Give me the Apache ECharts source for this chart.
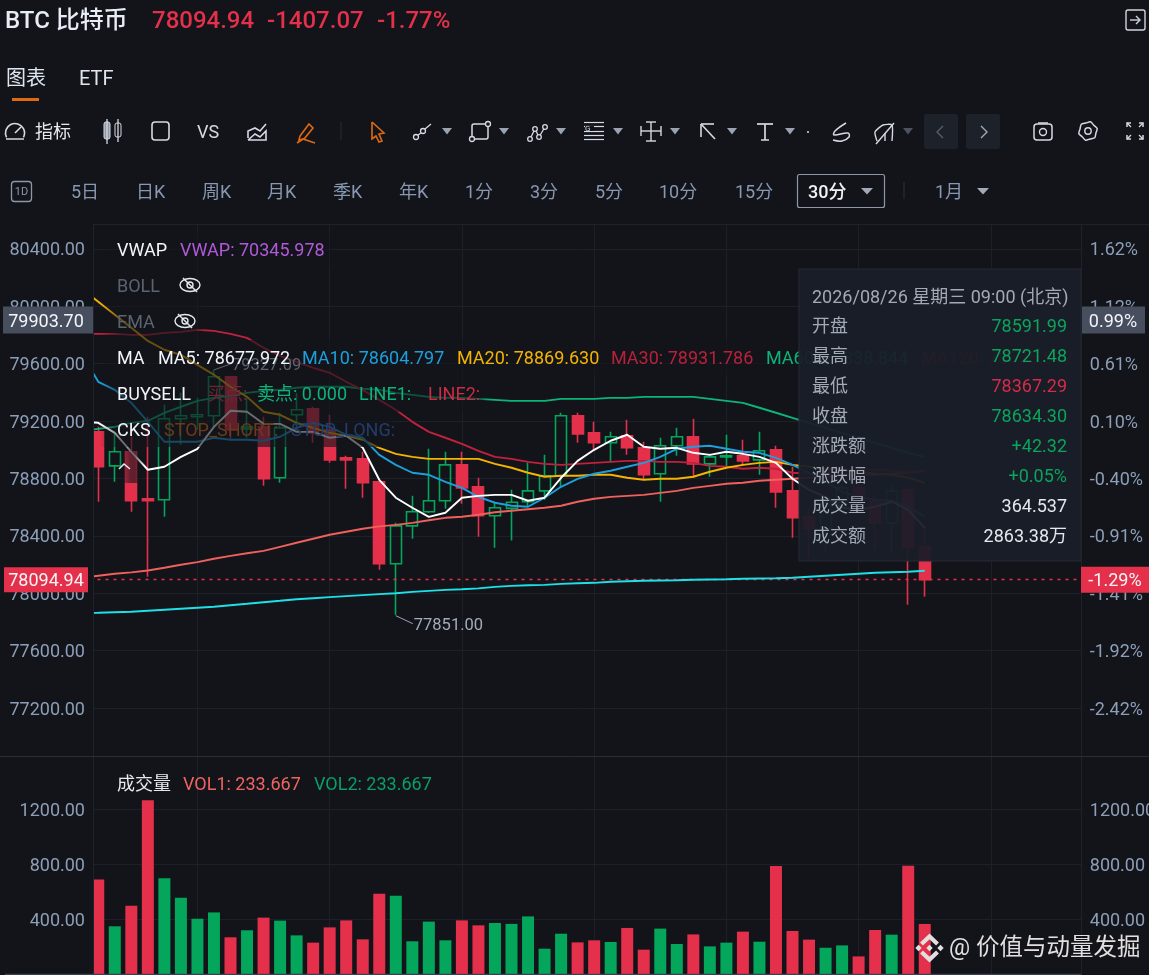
<!DOCTYPE html>
<html><head><meta charset="utf-8">
<script src="https://cdn.jsdelivr.net/npm/echarts@6/dist/echarts.min.js"></script>
<style>html,body{margin:0;padding:0;background:#12141a;overflow:hidden}#c{width:1149px;height:975px}</style>
</head><body><div id="c"></div>
<script>
// candles: [open, close, low, high]
const candles = [
[79125,78882,78638,79160],[78888,78986,78777,79118],[78986,78645,78568,79091],[78659,78645,78115,79230],
[78652,79216,78533,79314],[79216,79237,79035,79397],[79230,79244,79139,79362],[79237,79509,79160,79557],
[79509,79139,79077,79516],[79146,79160,79084,79369],[79160,78798,78749,79230],[78805,79153,78770,79258],
[79244,79279,79139,79397],[79286,79118,79049,79300],[79139,78930,78909,79244],[78944,78930,78728,78958],
[78937,78770,78666,78986],[78777,78206,78164,78785],[78206,78470,77851,78491],[78470,78568,78380,78679],
[78568,78645,78560,79007],[78645,78895,78589,78986],[78895,78735,78624,78986],[78742,78540,78394,78805],
[78540,78596,78317,78638],[78591.99,78634.30,78367.29,78721.48],[78638,78714,78603,78909],[78714,78819,78652,78965],
[78819,79237,78742,79258],[79237,79111,79049,79258],[79118,79049,78993,79195],[79049,79091,78909,79125],
[79098,79014,78965,79209],[79014,78826,78791,79056],[78833,79028,78638,79084],[79028,79091,78958,79153],
[79091,78902,78805,79216],[78902,78951,78812,78972],[78951,78958,78875,79105],[78958,78923,78888,79070],
[78930,78993,78826,79125],[79000,78707,78596,79028],[78714,78526,78387,78882],[78533,78450,78247,78596],
[78450,78631,78289,78652],[78631,78735,78582,78756],[78735,78652,78547,78791],[78638,78491,78303,78686],
[78491,78714,78289,78756],[78721,78317,77920,78735],[78324,78094.94,77976,78456]];
const volumes = [688,347,497,1263,696,555,402,448,267,318,410,388,281,228,339,390,252,584,570,238,381,245,390,354,371,364.537,419,184,293,230,245,233,335,177,330,218,288,201,228,308,235,785,313,250,191,208,128,320,286,788,364];
// line series: first value is the bar just left of the visible window
const ma5 = [79195,79188,79118,78986,78861,78882,78951,79007,79160,79272,79265,79181,79181,79125,79125,79084,79098,79014,78791,78666,78596,78533,78561,78666,78679,78686,78686,78645,78666,78805,78923,79000,79063,79105,79021,79007,79014,78979,78965,78986,78972,78951,78909,78798,78721,78672,78596,78582,78603,78638,78582,78456];
const ma10 = [79669,79474,79418,79327,79195,79056,79056,79056,79084,79070,79070,79063,79091,79153,79188,79160,79105,79084,78965,78895,78840,78826,78777,78735,78672,78631,78610,78603,78666,78742,78798,78833,78854,78882,78909,78951,79007,79021,79028,79007,78986,78979,78944,78895,78840,78777,78707,78672,78652,78645,78603,78533];
const ma20 = [80122,80031,79941,79850,79759,79697,79662,79592,79523,79439,79369,79265,79244,79188,79153,79118,79098,79070,79014,78972,78951,78937,78937,78937,78937,78902,78875,78840,78812,78819,78819,78826,78826,78805,78791,78798,78798,78812,78847,78875,78895,78909,78916,78895,78882,78868,78861,78847,78833,78826,78805,78770];
const ma30 = [79808,79808,79808,79801,79801,79815,79822,79836,79829,79808,79780,79711,79655,79613,79571,79537,79474,79418,79348,79279,79195,79125,79084,79042,78993,78951,78937,78916,78902,78895,78902,78909,78916,78923,78923,78916,78916,78909,78888,78882,78868,78875,78868,78840,78833,78840,78847,78854,78861,78854,78847,78847];
const ma60 = [79132,79146,79160,79188,79202,79258,79300,79341,79362,79376,79397,79411,79418,79432,79439,79439,79439,79425,79418,79397,79383,79369,79362,79362,79355,79348,79341,79341,79341,79355,79355,79355,79362,79362,79369,79369,79369,79369,79355,79341,79327,79293,79258,79223,79188,79153,79118,79084,79049,79014,78979,78951];
const ma120 = [78108,78122,78136,78146,78159,78178,78199,78217,78241,78261,78279,78296,78324,78352,78380,78408,78429,78450,78466,78477,78491,78509,78526,78533,78547,78565,78575,78586,78596,78610,78638,78659,78672,78679,78686,78700,78714,78735,78749,78763,78770,78784,78791,78798,78805,78812,78819,78826,78826,78833,78840,78854];
const ma250 = [77862,77864,77868,77871,77878,77885,77892,77899,77906,77917,77927,77938,77948,77959,77966,77973,77980,77987,77994,78000,78010,78017,78024,78028,78034,78045,78052,78056,78059,78066,78070,78073,78080,78084,78087,78089,78091,78094,78096,78098,78101,78103,78105,78108,78115,78122,78129,78136,78143,78147,78150,78157];
const pctLabels = ['1.62%','1.12%','0.61%','0.10%','-0.40%','-0.91%','-1.41%','-1.92%','-2.42%'];
const lastPrice = 78094.94, crossPrice = 79903.70;
const lastPct = '-1.29%', crossPct = '0.99%';
const highLabel = '79327.09', lowLabel = '77851.00';
const tipRows = [['开盘','78591.99','g'],['最高','78721.48','g'],['最低','78367.29','r'],['收盘','78634.30','g'],['涨跌额','+42.32','g'],['涨跌幅','+0.05%','g'],['成交量','364.537','w'],['成交额','2863.38万','w']];
const periods = [['5日',71],['日K',136],['周K',202],['月K',267],['季K',333],['年K',399],['1分',465],['3分',530],['5分',595],['10分',659],['15分',735]];

const BG='#12141a',RED='#e4304b',GRN='#03a65a',AX='#8d9fb8',GRID='#1c2028',FONT='Roboto,"Noto Sans CJK SC",sans-serif';
const SLOTS=61, cats=Array.from({length:SLOTS},(_,i)=>String(i));
const gridIdx=[7,15,23,31,39,47,55];
const padL=a=>{const r=a.slice();while(r.length<SLOTS)r.push('-');return r;};

const chart=echarts.init(document.getElementById('c'),null,{renderer:'canvas'});

/* graphic helpers */
const ln=(x1,y1,x2,y2,c,w=1,z=420,extra={})=>({type:'line',silent:true,z,shape:{x1,y1,x2,y2},style:Object.assign({stroke:c,lineWidth:w},extra)});
const box=(x,y,w,h,o={})=>({type:'rect',silent:true,z:o.z??420,shape:{x,y,width:w,height:h,r:o.r||0},style:{fill:o.fill||'none',stroke:o.stroke||'none',lineWidth:o.lw||1}});
const txt=(x,y,s,c,o={})=>({type:'text',silent:true,z:o.z??430,style:{x,y:y+2,text:s,fill:c,font:(o.w?o.w+' ':'')+(o.size||18)+'px '+FONT,textAlign:o.align||'left',textVerticalAlign:'middle',opacity:o.op??1}});
const poly=(pts,c,w=1.6,z=420)=>({type:'polyline',silent:true,z,shape:{points:pts},style:{stroke:c,lineWidth:w,fill:'none'}});
const pg=(pts,c,z=420)=>({type:'polygon',silent:true,z,shape:{points:pts},style:{fill:c}});
const cir=(x,y,r,c,w=1.6,z=420,fill='none')=>({type:'circle',silent:true,z,shape:{cx:x,cy:y,r},style:{stroke:c,lineWidth:w,fill}});
const tri=(x,y,c='#9aa3b2',s=5)=>pg([[x-s,y-3],[x+s,y-3],[x,y+3.5]],c);

function rowShade(x,y,w,h){
  const a=0.62;
  return {type:'rect',silent:true,z:150,shape:{x,y,width:w,height:h},style:{fill:new echarts.graphic.LinearGradient(0,0,1,0,[
    {offset:0,color:'rgba(18,20,26,0)'},{offset:Math.min(0.5,22/w),color:'rgba(18,20,26,'+a+')'},
    {offset:Math.max(0.5,1-10/w),color:'rgba(18,20,26,'+a+')'},{offset:1,color:'rgba(18,20,26,0)'}])}};
}
function eye(x,y){return [
  {type:'ellipse',silent:true,z:160,shape:{cx:x,cy:y,rx:10,ry:6.5},style:{stroke:'#e4e8ef',lineWidth:1.4,fill:'none'}},
  cir(x,y,3,'#e4e8ef',1.4,160),ln(x-7,y-7,x+7,y+7,'#e4e8ef',1.4,160)];}

function staticGraphics(){
  const g=[];
  // legend row shades
  g.push(rowShade(100,233,235,35),rowShade(100,268,110,36),rowShade(100,304,105,36),rowShade(100,340,985,36),rowShade(100,376,388,36),rowShade(100,412,298,35),rowShade(117,447,28,36));
  const L=(x,y,s,c,w)=>txt(x,y,s,c,{z:160,w});
  g.push(L(117,249,'VWAP','#f2f5fa'),L(180,249,'VWAP: 70345.978','#b05ad8'));
  g.push(L(117,285,'BOLL','#5c6370'),...eye(190,285));
  g.push(L(117,321,'EMA','#5c6370'),...eye(185,321));
  g.push(L(117,357,'MA','#f2f5fa'),L(158,357,'MA5: 78677.972','#f2f5fa'),L(302,357,'MA10: 78604.797','#1d9fdc'),L(457,357,'MA20: 78869.630','#f5b400'),L(611,357,'MA30: 78931.786','#b9213a'),L(766,357,'MA60: 78838.844','#0cb47a'),L(921,357,'MA120: 78525.517','#b9213a'));
  g.push(L(117,393,'BUYSELL','#f2f5fa'),L(207,393,'买点:','#6e2534'),L(257,393,'卖点: 0.000','#0cb47a'),L(359,393,'LINE1:','#0cb47a'),L(428,393,'LINE2:','#c92c44'));
  g.push(L(117,429,'CKS','#f2f5fa'),L(164,429,'STOP_SHORT:','#6b3a1c'),L(291,429,'STOP_LONG:','#243c6b'));
  g.push(poly([[119,469],[124,464],[130,469]],'#e8ecf2',1.5,160));
  g.push(txt(117,783,'成交量','#e6ebf2',{z:160}),txt(183,783,'VOL1: 233.667','#ef6461',{z:160}),txt(314,783,'VOL2: 233.667','#0a9e68',{z:160}));
  // tooltip
  g.push(box(799,269,282,292,{fill:'rgba(26,30,40,0.95)',stroke:'#262b36',z:200}));
  g.push(txt(812,296,'2026/08/26 星期三 09:00 (北京)','#a3aab6',{z:210}));
  const tc={g:'#0aa45c',r:'#d42c48',w:'#e4e8ef'};
  tipRows.forEach((r,i)=>{const y=325+i*30;g.push(txt(812,y,r[0],'#a3aab6',{z:210}),txt(1067,y,r[1],tc[r[2]],{z:210,align:'right'}));});
  // panel frame
  g.push(box(0,0,1149,224.5,{fill:BG,z:250}),box(0,224,93,751,{fill:BG,z:250}));
  g.push(ln(93,224.5,1149,224.5,'#1e222b',1,260),ln(93.5,224,93.5,975,'#1e222b',1,260),ln(1081.5,224,1081.5,975,'#1e222b',1,260),ln(0,756.5,1149,756.5,'#282d38',1,260),ln(5,974.5,1081,974.5,'#3a4150',1.4,260));
  // header
  g.push(txt(5,20,'BTC 比特币','#e8edf5',{size:24,w:500}),txt(152,20,'78094.94',RED,{size:24,w:500}),txt(267,20,'-1407.07',RED,{size:24,w:500}),txt(377,20,'-1.77%',RED,{size:24,w:500}));
  g.push(box(1126,10,19,20,{stroke:'#cfd5df',r:2,lw:1.4}),ln(1130,20,1140,20,'#cfd5df',1.4),poly([[1136,16],[1140,20],[1136,24]],'#cfd5df',1.4));
  g.push(txt(6,78,'图表','#dfe6f0',{size:20}),txt(79,78,'ETF','#dfe6f0',{size:20}),box(12,98,27,3,{fill:'#df6a12'}));
  // toolbar row
  const W='#d5dae3',Y=131;
  g.push({type:'arc',silent:true,z:420,shape:{cx:15,cy:133,r:9.5,startAngle:Math.PI*0.85,endAngle:Math.PI*2.15},style:{stroke:W,lineWidth:1.6,fill:'none'}},ln(6,139,24,139,W,1.5),ln(15,133,21,127,W,1.6));
  g.push(txt(35,Y,'指标','#e4e8ef'));
  g.push(box(104,122,6,17,{fill:'#8e96a3',stroke:W,r:2}),ln(107,119,107,144,W,1.3),box(115,123,6,14,{stroke:W,r:2}),ln(118,119,118,142,W,1.3));
  g.push(box(152,122,17,18,{stroke:W,r:3,lw:1.6}));
  g.push(txt(197,Y,'VS','#d5dae3'));
  g.push(poly([[248,138],[248,131],[255,128],[260,131],[266,124]],W),poly([[248,140],[255,134],[260,137],[266,131],[266,140],[248,140]],W));
  const O='#df6a12';
  g.push(poly([[297,143],[303,139],[309,141],[315,143]],O),poly([[300,136],[309,124],[313,128],[304,139],[299,140],[300,136]],O));
  g.push(ln(341,122,341,140,'#262b36',1));
  g.push(poly([[372,122],[384,133],[379,134],[382,141],[379,142],[376,136],[372,139],[372,122]],O));
  g.push(cir(416,137,2.5,W,1.3),cir(423,131,2.5,W,1.3),ln(418,135,421,133,W,1.3),ln(425,129,431,124,W,1.3),tri(447,131));
  g.push(box(472,124,16,15,{stroke:W,r:2,lw:1.5}),cir(472,139,2.5,W,1.3,421,BG),cir(488,124,2.5,W,1.3,421,BG),tri(504,131));
  g.push(poly([[530,139],[535,129],[539,137],[545,127]],W,1.3),cir(530,139,2.3,W,1.3,421,BG),cir(535,129,2.3,W,1.3,421,BG),cir(539,137,2.3,W,1.3,421,BG),cir(545,127,2.3,W,1.3,421,BG),tri(561,131));
  [122,126,131,135,139].forEach(y=>g.push(ln(584,y+.5,604,y+.5,W,1.2)));
  g.push(box(585,126,9,5,{fill:BG}),txt(585,127,'G',W,{size:8}),tri(618,131));
  g.push(ln(641,131,661,131,W,1.4),ln(641,126,641,136,W,1.4),ln(661,126,661,136,W,1.4),ln(651,122,651,141,W,1.4),ln(646,122,656,122,W,1.4),ln(646,141,656,141,W,1.4),tri(675,131));
  g.push(ln(701,124,714,124,W,1.6),ln(701,124,701,137,W,1.6),ln(701,124,715,139,W,1.6),tri(732,131));
  g.push(ln(757,124,773,124,W,1.7),ln(765,124,765,140,W,1.7),ln(761,140,769,140,W,1.5),tri(790,131));
  g.push(cir(808,132,.7,W,1));
  g.push({type:'polyline',silent:true,z:420,shape:{points:[[846,123],[835,131],[834,135],[848,133],[849,137],[842,141],[833,140]],smooth:0.4},style:{stroke:W,lineWidth:1.5,fill:'none'}});
  g.push({type:'polyline',silent:true,z:420,shape:{points:[[877,141],[875,132],[883,125],[892,125],[892,141]],smooth:0.2},style:{stroke:W,lineWidth:1.4,fill:'none'}},ln(876,144,894,123,W,1.4),ln(885,133,885,141,W,1.4),tri(908,131,'#4c5260'));
  g.push(box(924,114,34,35,{fill:'#1d2129',r:2}),box(966,114,34,35,{fill:'#1d2129',r:2}));
  g.push(poly([[943,126],[937,132],[943,138]],'#565d6b',1.4),poly([[981,126],[987,132],[981,138]],'#a3aab6',1.4));
  g.push(box(1034,124,18,16,{stroke:W,r:3,lw:1.5}),ln(1038,123,1048,123,W,1.5),cir(1043,132,3.5,W,1.4));
  const gear=[];for(let k=0;k<12;k++){const a=k*Math.PI/6-Math.PI/12,r=(k%2===0)?9.5:8.2;gear.push([1088+r*Math.cos(a),131+r*Math.sin(a)]);}
  g.push({type:'polygon',silent:true,z:420,shape:{points:gear,smooth:0.25},style:{stroke:W,lineWidth:1.5,fill:'none'}},cir(1088,131,3.2,W,1.4));
  [[1127,123,1,1],[1143,123,-1,1],[1127,139,1,-1],[1143,139,-1,-1]].forEach(c=>g.push(poly([[c[0],c[1]+4*c[3]],[c[0],c[1]],[c[0]+4*c[2],c[1]]],W,1.5),ln(c[0],c[1],c[0]+4*c[2],c[1]+4*c[3],W,1.3)));
  // period row
  g.push(box(11.5,181.5,20,20,{stroke:'#8d97a6',r:3,lw:1.3}),txt(21.5,190,'1D','#8d97a6',{size:11,align:'center'}));
  periods.forEach(p=>g.push(txt(p[1],191,p[0],'#8898b2')));
  g.push(box(797.5,174.5,87,33,{stroke:'#8d97a6',r:2,lw:1.2}),txt(808,191,'30分','#f0f3f8',{w:500}),tri(867,191,'#a3aab6',6));
  g.push(ln(904,182,904,199,'#2c313c',1),txt(935,191,'1月','#8898b2'),tri(983,191,'#a3aab6',6));
  // watermark
  const D='#e3dfe0';
  const dm=(x,y,s)=>pg([[x,y-s],[x+s,y],[x,y+s],[x-s,y]],D,500);
  g.push(poly([[921.5,944],[929.5,936.5],[937.5,944]],D,4.2,500),poly([[921.5,952],[929.5,959.5],[937.5,952]],D,4.2,500),dm(918.5,948,3.2),dm(940.5,948,3.2),dm(929.5,948,3.2));
  g.push(txt(949,947,'@ 价值与动量发掘',D,{size:23.5,z:500}));
  return g;
}

const lineS=(name,data,color)=>({name,type:'line',data:padL(data),xAxisIndex:0,yAxisIndex:0,symbol:'none',smooth:false,z:5,silent:true,animation:false,lineStyle:{color,width:1.9}});
const lab=f=>({margin:8,color:AX,fontFamily:FONT,fontSize:18,formatter:v=>{const s=f(v);return s?'{a|'+s+'}':'';},
  rich:{a:{padding:[4,0,0,0],color:AX,fontFamily:FONT,fontSize:18}}});

const option={
  backgroundColor:BG,animation:false,
  grid:[{left:73.47,top:191.5,width:1008.3,height:574,containLabel:false,outerBoundsMode:'none'},{left:73.47,top:754,width:1008.3,height:220,containLabel:false,outerBoundsMode:'none'}],
  xAxis:[0,1].map(i=>({type:'category',gridIndex:i,data:cats,boundaryGap:true,axisLine:{show:false},axisTick:{show:false},axisLabel:{show:false},
    splitLine:{show:true,alignWithLabel:true,interval:(idx)=>gridIdx.includes(idx),lineStyle:{color:GRID,width:1}}})),
  yAxis:[
    {type:'value',gridIndex:0,position:'left',offset:-19.5,z:300,min:76800,max:80800,interval:400,scale:true,axisLine:{show:false},axisTick:{show:false},splitLine:{show:false},
      axisLabel:lab(v=>(v>=80800||v<=76800)?'':v.toFixed(2))},
    {type:'value',gridIndex:0,position:'right',min:76800,max:80800,interval:400,scale:true,axisLine:{show:false},axisTick:{show:false},
      splitLine:{show:true,showMinLine:false,showMaxLine:false,lineStyle:{color:GRID}},
      axisLabel:lab(v=>pctLabels[Math.round((80400-v)/400)]||'')},
    {type:'value',gridIndex:1,position:'left',offset:-19.5,z:300,min:0,max:1600,interval:400,axisLine:{show:false},axisTick:{show:false},splitLine:{show:false},
      axisLabel:lab(v=>(v===0||v===1600)?'':v.toFixed(2))},
    {type:'value',gridIndex:1,position:'right',min:0,max:1600,interval:400,axisLine:{show:false},axisTick:{show:false},
      splitLine:{show:true,showMinLine:false,showMaxLine:false,lineStyle:{color:GRID}},
      axisLabel:lab(v=>(v===0||v===1600)?'':v.toFixed(2))}
  ],
  series:[
    {name:'K',type:'candlestick',xAxisIndex:0,yAxisIndex:0,barWidth:11.5,z:3,silent:true,
      data:padL([['-','-','-','-']].concat(candles)),
      itemStyle:{color:'rgba(0,0,0,0)',color0:RED,borderColor:GRN,borderColor0:RED,borderWidth:1.6},
      markLine:{silent:true,symbol:'none',animation:false,label:{show:false},lineStyle:{color:RED,type:[3,5],width:1.4},data:[{yAxis:lastPrice}]}},
    lineS('MA120',ma120,'#f0605c'),lineS('MA250',ma250,'#1ee0e6'),lineS('MA60',ma60,'#0cb47a'),lineS('MA30',ma30,'#c0213c'),
    lineS('MA20',ma20,'#f5b400'),lineS('MA10',ma10,'#1d9fdc'),lineS('MA5',ma5,'#ffffff'),
    {name:'VOL',type:'bar',xAxisIndex:1,yAxisIndex:3,barWidth:12,silent:true,z:3,
      data:padL(['-'].concat(volumes.map((v,i)=>({value:v,itemStyle:{color:candles[i][1]>=candles[i][0]?GRN:RED}}))))}
  ]
};
option.graphic={elements:staticGraphics()};
chart.setOption(option);

// price tags and extreme labels placed through the chart's own scale
const py=v=>chart.convertToPixel({yAxisIndex:0},v);
const px=i=>chart.convertToPixel({xAxisIndex:0},i);
const yL=py(lastPrice),yC=py(crossPrice);
const dyn=[];
dyn.push(box(4,yL-12.5,84,25,{fill:RED,z:440}),txt(46,yL,'78094.94','#f5f5f7',{z:441,align:'center'}));
dyn.push(box(3,yC-13.5,90,27,{fill:'#474f5e',z:440}),txt(46,yC,'79903.70','#f2f5fa',{z:441,align:'center'}));
dyn.push(box(1082,yC-13.5,63,27,{fill:'#474f5e',z:440}),txt(1113,yC,crossPct,'#f2f5fa',{z:441,align:'center'}));
dyn.push(box(1081,yL-13,68,26,{fill:RED,z:440}),txt(1115,yL,lastPct,'#f5f5f7',{z:441,align:'center'}));
const hx=px(8),hy=py(candles[7][3]);
dyn.push(poly([[hx,hy],[hx+17,hy-6]],'#5c6370',1,155),txt(hx+18,hy-6,highLabel,'#5c6370',{size:16.5,z:155}));
const lx=px(19),ly=py(candles[18][2]);
dyn.push(poly([[lx,ly+1],[lx+17,ly+9]],'#9aa4b5',1,20),txt(lx+18,ly+9,lowLabel,'#a3acba',{size:16.5,z:20}));
option.graphic.elements=option.graphic.elements.concat(dyn);
chart.setOption({graphic:option.graphic},{replaceMerge:['graphic']});
</script></body></html>
